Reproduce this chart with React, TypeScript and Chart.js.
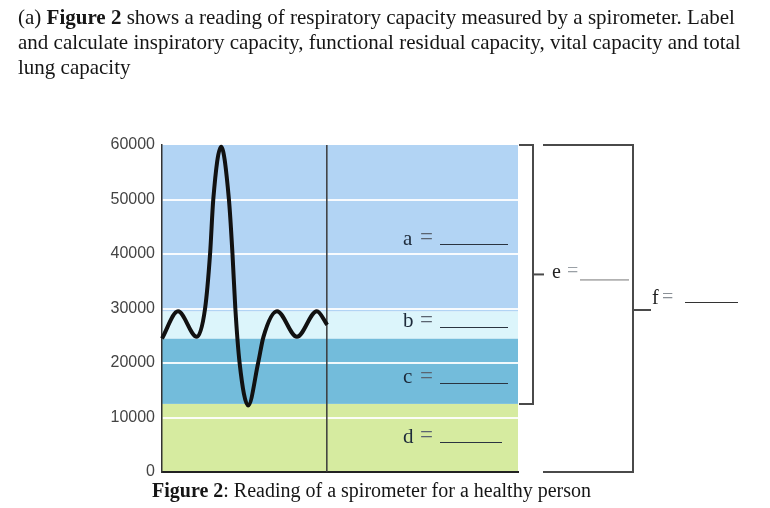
import React, { useEffect, useRef } from "react";
import { Chart, registerables } from "chart.js";
Chart.register(...registerables);

// ---- data ----
const yTickValues = [0, 10000, 20000, 30000, 40000, 50000, 60000];
const bandEdges = [0, 12500, 24500, 29500, 60000];
const bandColors = ["#d6eba0", "#73bcdb", "#dcf5fb", "#b2d4f4"];
const traceX = [0, 4.5, 9.8, 12.1, 13.5, 14.4, 16.6, 18.8, 19.8, 20.6, 21.8, 24.2, 27.0, 28.5, 32.3, 37.9, 43.5, 46.4];
const traceY = [24500, 29500, 24800, 30000, 40000, 50000, 59700, 50000, 40000, 30000, 20000, 12200, 20000, 24800, 29500, 24800, 29500, 27000];
const markerX = 46.3;
const bandLabels = ["a", "b", "c", "d"];
const bandLabelValues = [42700, 27600, 17300, 6400];
const vitalRange = [12500, 60000];
const totalRange = [0, 60000];

const serif = '"Liberation Serif", "Times New Roman", serif';

const bandsPlugin = {
  id: "bands",
  beforeDraw(chart: any) {
    const { ctx, chartArea, scales } = chart;
    const y = scales.y;
    ctx.save();
    for (let i = 0; i < bandColors.length; i++) {
      const top = y.getPixelForValue(bandEdges[i + 1]);
      const bot = y.getPixelForValue(bandEdges[i]);
      ctx.fillStyle = bandColors[i];
      ctx.fillRect(chartArea.left, top, chartArea.right - chartArea.left, bot - top);
    }
    ctx.restore();
  },
  afterDraw(chart: any) {
    const { ctx, chartArea, scales } = chart;
    const y = scales.y;
    const L = chartArea.left;
    ctx.save();
    ctx.textBaseline = "middle";
    // band labels
    bandLabels.forEach((lab, i) => {
      const py = y.getPixelForValue(bandLabelValues[i]);
      ctx.font = `21px ${serif}`;
      ctx.fillStyle = "#1d2a3a";
      ctx.fillText(lab, L + 241, py);
      ctx.font = `23px ${serif}`;
      ctx.fillStyle = "#5a6470";
      ctx.fillText("=", L + 258, py - 1);
      ctx.strokeStyle = "#2a3440";
      ctx.lineWidth = 1;
      ctx.beginPath();
      ctx.moveTo(L + 278, Math.round(py + 5) + 0.5);
      ctx.lineTo(L + (i === 3 ? 340 : 346), Math.round(py + 5) + 0.5);
      ctx.stroke();
    });
    // bracket e (vital capacity)
    const eTop = y.getPixelForValue(vitalRange[1]);
    const eBot = y.getPixelForValue(vitalRange[0]);
    ctx.strokeStyle = "#4a4a4a";
    ctx.lineWidth = 2;
    ctx.beginPath();
    ctx.moveTo(519, eTop);
    ctx.lineTo(533, eTop);
    ctx.lineTo(533, eBot);
    ctx.lineTo(519, eBot);
    ctx.stroke();
    const eMid = (eTop + eBot) / 2;
    ctx.beginPath();
    ctx.moveTo(533, eMid);
    ctx.lineTo(544, eMid);
    ctx.stroke();
    ctx.font = `20px ${serif}`;
    ctx.fillStyle = "#222";
    ctx.fillText("e", 552, eMid - 2);
    ctx.fillStyle = "#9aa0a6";
    ctx.fillText("=", 567, eMid - 3);
    ctx.strokeStyle = "#777";
    ctx.lineWidth = 1;
    ctx.beginPath();
    ctx.moveTo(580, eMid + 5.5);
    ctx.lineTo(629, eMid + 5.5);
    ctx.stroke();
    // bracket f (total lung capacity)
    const fTop = y.getPixelForValue(totalRange[1]);
    const fBot = y.getPixelForValue(totalRange[0]);
    ctx.strokeStyle = "#4a4a4a";
    ctx.lineWidth = 2;
    ctx.beginPath();
    ctx.moveTo(543, fTop);
    ctx.lineTo(633, fTop);
    ctx.lineTo(633, fBot);
    ctx.lineTo(543, fBot);
    ctx.stroke();
    const fMid = 310;
    ctx.beginPath();
    ctx.moveTo(633, fMid);
    ctx.lineTo(651, fMid);
    ctx.stroke();
    ctx.font = `20px ${serif}`;
    ctx.fillStyle = "#222";
    ctx.fillText("f", 652, fMid - 11);
    ctx.fillStyle = "#8a9096";
    ctx.fillText("=", 662, fMid - 12);
    ctx.strokeStyle = "#333";
    ctx.lineWidth = 1;
    ctx.beginPath();
    ctx.moveTo(685, fMid - 7.5);
    ctx.lineTo(738, fMid - 7.5);
    ctx.stroke();
    ctx.restore();
  },
};

export default function App() {
  const ref = useRef<HTMLCanvasElement | null>(null);
  useEffect(() => {
    document.body.style.margin = "0";
    const canvas = ref.current!;
    const chart = new Chart(canvas, {
      type: "line",
      data: {
        datasets: [
          {
            data: traceX.map((x, i) => ({ x, y: traceY[i] })),
            borderColor: "#111",
            borderWidth: 4,
            pointRadius: 0,
            cubicInterpolationMode: "monotone",
            clip: false as any,
            order: 0,
          },
          {
            data: [
              { x: markerX, y: totalRange[0] },
              { x: markerX, y: totalRange[1] },
            ],
            borderColor: "#3a3a3a",
            borderWidth: 1.5,
            pointRadius: 0,
            order: 1,
          },
        ],
      },
      options: {
        animation: false,
        responsive: false,
        devicePixelRatio: 1,
        layout: { padding: { left: 0, top: 145, right: 252, bottom: 36 } },
        plugins: { legend: { display: false }, tooltip: { enabled: false }, title: { display: false } },
        scales: {
          x: {
            type: "linear",
            min: 0,
            max: 100,
            ticks: { display: false },
            grid: { display: false, drawTicks: false },
            border: { display: true, color: "#222", width: 2 },
            afterFit(scale: any) {
              scale.height = 0;
            },
          },
          y: {
            type: "linear",
            min: 0,
            max: 60000,
            afterBuildTicks(scale: any) {
              scale.ticks = yTickValues.map((v) => ({ value: v }));
            },
            ticks: {
              color: "#444",
              padding: 7,
              font: { family: '"Liberation Sans", Arial, sans-serif', size: 16 },
              callback: (v: any) => String(v),
            },
            grid: {
              drawTicks: false,
              lineWidth: 2,
              color: (c: any) => (c.tick && (c.tick.value === 0 || c.tick.value === 60000) ? "rgba(0,0,0,0)" : "rgba(255,255,255,0.9)"),
            },
            border: { display: true, color: "#333", width: 1.5 },
            afterFit(scale: any) {
              scale.width = 162;
            },
          },
        },
      },
      plugins: [bandsPlugin],
    } as any);
    return () => chart.destroy();
  }, []);

  return (
    <div style={{ position: "relative", width: 770, height: 508, background: "#fff", overflow: "hidden" }}>
      <canvas ref={ref} width={770} height={508} style={{ position: "absolute", left: 0, top: 0 }} />
      <div
        style={{
          position: "absolute",
          left: 18,
          top: 5,
          fontFamily: serif,
          fontSize: 21,
          lineHeight: "25px",
          color: "#151515",
          whiteSpace: "nowrap",
        }}
      >
        (a) <b>Figure 2</b> shows a reading of respiratory capacity measured by a spirometer. Label
        <br />
        and calculate inspiratory capacity, functional residual capacity, vital capacity and total
        <br />
        lung capacity
      </div>
      <div
        style={{
          position: "absolute",
          left: 152,
          top: 478,
          fontFamily: serif,
          fontSize: 20,
          lineHeight: "24px",
          color: "#151515",
          whiteSpace: "nowrap",
        }}
      >
        <b>Figure 2</b>: Reading of a spirometer for a healthy person
      </div>
    </div>
  );
}
